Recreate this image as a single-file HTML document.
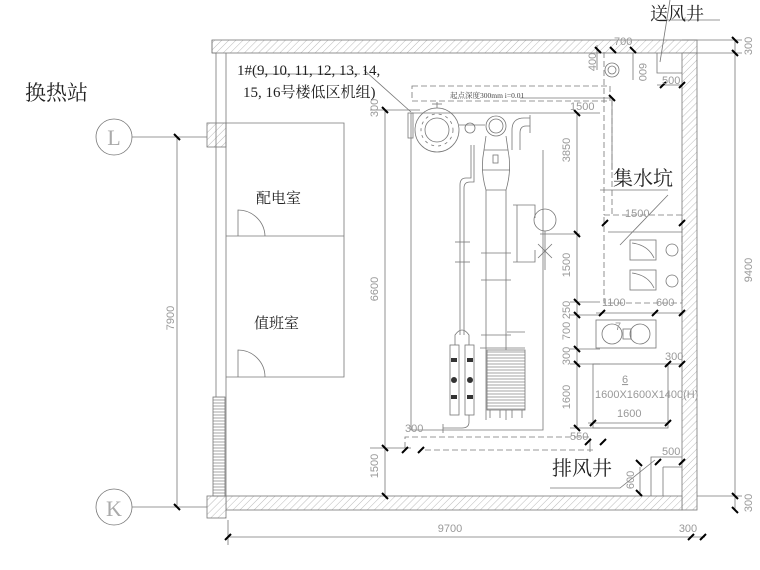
<!DOCTYPE html>
<html><head><meta charset="utf-8"><style>
html,body{margin:0;padding:0;background:#fff;width:760px;height:570px;overflow:hidden}
svg{display:block}
text{font-family:"Liberation Serif","Noto Serif CJK SC","Noto Sans CJK SC",serif}
.d{fill:#999;font-family:"Liberation Sans","Noto Sans CJK SC",sans-serif;font-size:11px}
</style></head><body>
<svg width="760" height="570" viewBox="0 0 760 570" xmlns="http://www.w3.org/2000/svg">
<defs>
<pattern id="h" width="5" height="5" patternUnits="userSpaceOnUse" patternTransform="rotate(45)">
<rect width="5" height="5" fill="#fff"/><line x1="0" y1="0" x2="0" y2="5" stroke="#aaa" stroke-width="0.8"/></pattern>
<pattern id="v" width="2.5" height="3" patternUnits="userSpaceOnUse"><rect width="3" height="3" fill="#fff"/><line x1="0" y1="1" x2="3" y2="1" stroke="#666" stroke-width="0.6"/></pattern>
</defs>
<g stroke="#777" stroke-width="0.8" fill="none">
<rect x="212" y="40" width="485" height="13" fill="url(#h)"/>
<rect x="682" y="53" width="15" height="457" fill="url(#h)"/>
<rect x="226" y="496" width="456" height="14" fill="url(#h)"/>
<rect x="207" y="123" width="19" height="24" fill="url(#h)"/>
<rect x="207" y="496" width="19" height="22" fill="url(#h)"/>
<rect x="213" y="397" width="12" height="99" fill="url(#v)"/>
<line x1="216" y1="53" x2="216" y2="397"/>
<line x1="226" y1="53" x2="226" y2="496"/>
<line x1="212" y1="40" x2="212" y2="53"/>
<line x1="212" y1="53" x2="216" y2="53"/>
<polyline points="226,123 344,123 344,377 226,377"/>
<line x1="226" y1="236" x2="344" y2="236"/>
<path d="M238,236 V210 A27,27 0 0 1 265,236"/>
<path d="M238,377 V350 A27,27 0 0 1 265,377"/>
<circle cx="114" cy="137" r="18"/><circle cx="114" cy="507" r="18"/>
<line x1="132" y1="137" x2="207" y2="137"/><line x1="132" y1="507" x2="207" y2="507"/>
<line x1="177" y1="137" x2="177" y2="507"/>
<line x1="228" y1="537" x2="705" y2="537"/>
<line x1="228" y1="520" x2="228" y2="545"/>
<line x1="735" y1="40" x2="735" y2="510"/>
<line x1="682" y1="40" x2="742" y2="40"/><line x1="697" y1="53" x2="742" y2="53"/>
<line x1="697" y1="496" x2="742" y2="496"/>
<line x1="385" y1="110" x2="385" y2="496"/>
<line x1="370" y1="110" x2="420" y2="110"/>
<line x1="370" y1="448" x2="411" y2="448"/>
<line x1="577" y1="113" x2="577" y2="428"/>
<line x1="545" y1="113" x2="600" y2="113"/>
<line x1="540" y1="234" x2="580" y2="234"/>
<line x1="570" y1="302" x2="600" y2="302"/>
<line x1="570" y1="315" x2="600" y2="315"/>
<line x1="570" y1="349" x2="600" y2="349"/>
<line x1="570" y1="364" x2="600" y2="364"/>
<line x1="570" y1="428" x2="600" y2="428"/>
<line x1="520" y1="98" x2="612" y2="98"/><line x1="612" y1="98" x2="612" y2="170"/>
<line x1="411" y1="113" x2="411" y2="430"/>
<polyline points="411,430 543,430 543,150"/>
<line x1="411" y1="113" x2="545" y2="113"/>
<path d="M364,70 L411,112" />
<line x1="255" y1="74" x2="360" y2="74"/>
<rect x="408" y="113" width="5" height="25"/>
<circle cx="437" cy="130" r="22"/><circle cx="437" cy="130" r="12"/><circle cx="437" cy="130" r="16" stroke-dasharray="3,4"/>
<line x1="437" y1="108" x2="437" y2="102"/><line x1="432" y1="104" x2="442" y2="104"/>
<line x1="459" y1="125" x2="485" y2="125"/><circle cx="470" cy="128" r="5"/>
<circle cx="496" cy="126" r="10"/><circle cx="496" cy="126" r="7"/>
<path d="M486,136 L484,150 Q480,170 486,190 L486,420 M506,136 L508,150 Q512,170 506,190 L506,420"/>
<line x1="484" y1="150" x2="508" y2="150"/><line x1="482" y1="170" x2="510" y2="170"/><line x1="486" y1="190" x2="506" y2="190"/>
<rect x="493" y="155" width="5" height="8"/>
<line x1="481" y1="253" x2="511" y2="253"/><line x1="481" y1="280" x2="511" y2="280"/><line x1="481" y1="335" x2="511" y2="335"/>
<path d="M512,150 V130 Q512,118 524,118 H530 M520,150 V133 Q520,126 526,126 H530"/>
<line x1="530" y1="115" x2="530" y2="133"/>
<path d="M513,205 H535 V218 M513,262 H535 V250"/><line x1="517" y1="205" x2="517" y2="262"/>
<circle cx="545" cy="220" r="11"/>
<path d="M538,244 L552,258 M538,258 L552,244 M545,231 V270"/>
<path d="M460,335 V185 Q460,178 466,178 H471 V145 M464,335 V188 Q464,182 470,182 H474 V145"/>
<line x1="455" y1="242" x2="470" y2="242"/><line x1="455" y1="262" x2="470" y2="262"/>
<path d="M455,345 V335 Q462,325 469,335 V345"/>
<rect x="450" y="345" width="9" height="70"/><rect x="465" y="345" width="9" height="70"/>
<path d="M469,415 V422 Q469,428 462,428 H443 M443,424 V433"/>
<rect x="487" y="350" width="38" height="60" fill="url(#v)"/>
<line x1="480" y1="348" x2="525" y2="348"/>
<line x1="490" y1="410" x2="490" y2="418"/><line x1="500" y1="410" x2="500" y2="418"/><line x1="512" y1="410" x2="512" y2="418"/><line x1="522" y1="410" x2="522" y2="418"/>
<line x1="507" y1="332" x2="525" y2="332"/>
<g stroke-dasharray="6,3">
<rect x="412" y="86" width="198" height="15"/>
<polyline points="405,448 405,437 590,437"/>
<polyline points="425,450 595,450"/>
<rect x="604" y="215" width="78" height="88"/>
<line x1="604" y1="52" x2="604" y2="215"/>
<line x1="612" y1="100" x2="612" y2="215"/>
</g>
<rect x="630" y="240" width="26" height="20"/><rect x="630" y="270" width="26" height="20"/>
<path d="M632,243 Q648,245 654,258 M632,273 Q648,275 654,288"/>
<circle cx="672" cy="250" r="6"/><circle cx="672" cy="281" r="6"/>
<line x1="608" y1="232" x2="682" y2="232"/>
<line x1="620" y1="245" x2="668" y2="195"/>
<line x1="600" y1="190" x2="668" y2="190"/>
<line x1="596" y1="313" x2="682" y2="313"/>
<rect x="596" y="320" width="60" height="28"/><circle cx="612" cy="334" r="10"/><circle cx="640" cy="334" r="10"/><rect x="623" y="329" width="8" height="10"/>
<rect x="593" y="364" width="75" height="64"/>
<line x1="588" y1="423" x2="668" y2="423"/>
<line x1="668" y1="364" x2="682" y2="364"/>
<polyline points="657,53 657,73 682,73"/>
<line x1="657" y1="85" x2="682" y2="85"/>
<circle cx="612" cy="70" r="7"/><circle cx="612" cy="70" r="4"/>
<line x1="597" y1="45" x2="597" y2="70"/><line x1="633" y1="53" x2="633" y2="80"/>
<line x1="670" y1="0" x2="660" y2="62"/><line x1="660" y1="20" x2="720" y2="20"/>
<polyline points="651,496 651,457 682,457"/><line x1="663" y1="496" x2="663" y2="467"/><line x1="663" y1="467" x2="682" y2="467"/>
<line x1="640" y1="467" x2="640" y2="496"/>
<polyline points="550,488 620,488 655,460"/>
<line x1="590" y1="438" x2="590" y2="452"/>
</g>
<g fill="#333">
<circle cx="454" cy="380" r="3"/><circle cx="470" cy="380" r="3"/>
<rect x="451" y="358" width="6" height="4"/><rect x="467" y="358" width="6" height="4"/>
<rect x="451" y="395" width="6" height="4"/><rect x="467" y="395" width="6" height="4"/>
</g>
<g stroke="#000" stroke-width="2">
<path d="M174,134l6,6M174,504l6,6M225,540l6,-6M732,37l6,6M732,50l6,6M732,493l6,6M732,507l6,6M700,540l6,-6M688,540l6,-6M382,107l6,6M382,445l6,6M382,493l6,6M574,110l6,6M574,231l6,6M574,299l6,6M574,312l6,6M574,346l6,6M574,361l6,6M574,425l6,6M609,95l6,6M602,226l6,-6M679,226l6,-6M599,316l6,-6M652,316l6,-6M679,316l6,-6M590,426l6,-6M665,426l6,-6M665,367l6,-6M679,367l6,-6M402,453l6,-6M418,453l6,-6M585,445l6,-6M600,445l6,-6M660,88l6,-6M679,88l6,-6M595,47l6,6M610,47l6,6M630,47l6,6M636,460l6,6M636,490l6,6M655,465l6,-6M679,465l6,-6"/>
</g>
<text x="25" y="100" font-size="21" fill="#222">换热站</text>
<text x="114" y="145" font-size="22" fill="#aaa" text-anchor="middle">L</text>
<text x="114" y="516" font-size="22" fill="#aaa" text-anchor="middle">K</text>
<text x="256" y="203" font-size="15" fill="#222">配电室</text>
<text x="254" y="328" font-size="15" fill="#222">值班室</text>
<text x="237" y="75" font-size="15" fill="#222">1#(9, 10, 11, 12, 13, 14,</text>
<text x="243" y="97" font-size="15" fill="#222">15, 16号楼低区机组)</text>
<text x="450" y="98" font-size="7.5" fill="#444">起点深度300mm i=0.01</text>
<text x="613" y="185" font-size="20" fill="#222">集水坑</text>
<text x="650" y="20" font-size="18" fill="#222">送风井</text>
<text x="552" y="475" font-size="20" fill="#222">排风井</text>
<text class="d" x="450" y="532" text-anchor="middle">9700</text>
<text class="d" x="688" y="532" text-anchor="middle">300</text>
<text class="d" x="570" y="110">1500</text>
<text class="d" x="625" y="217">1500</text>
<text class="d" x="602" y="306">1100</text>
<text class="d" x="656" y="306">600</text>
<text class="d" x="665" y="360">300</text>
<text class="d" x="622" y="383" font-size="8" text-decoration="underline">6</text>
<text class="d" x="595" y="398" font-size="9">1600X1600X1400(H)</text>
<text class="d" x="617" y="417">1600</text>
<text class="d" x="615" y="330" font-size="8">7</text>
<text class="d" x="570" y="440">550</text>
<text class="d" x="405" y="432">300</text>
<text class="d" x="662" y="455">500</text>
<text class="d" x="662" y="84">500</text>
<text class="d" x="614" y="45">700</text>
<g class="d">
<text transform="translate(174,318) rotate(-90)" class="d" text-anchor="middle">7900</text>
<text transform="translate(752,270) rotate(-90)" class="d" text-anchor="middle">9400</text>
<text transform="translate(752,46) rotate(-90)" class="d" text-anchor="middle">300</text>
<text transform="translate(752,503) rotate(-90)" class="d" text-anchor="middle">300</text>
<text transform="translate(378,289) rotate(-90)" class="d" text-anchor="middle">6600</text>
<text transform="translate(378,108) rotate(-90)" class="d" text-anchor="middle">300</text>
<text transform="translate(378,466) rotate(-90)" class="d" text-anchor="middle">1500</text>
<text transform="translate(570,150) rotate(-90)" class="d" text-anchor="middle">3850</text>
<text transform="translate(570,265) rotate(-90)" class="d" text-anchor="middle">1500</text>
<text transform="translate(570,310) rotate(-90)" class="d" text-anchor="middle">250</text>
<text transform="translate(570,331) rotate(-90)" class="d" text-anchor="middle">700</text>
<text transform="translate(570,356) rotate(-90)" class="d" text-anchor="middle">300</text>
<text transform="translate(570,397) rotate(-90)" class="d" text-anchor="middle">1600</text>
<text transform="translate(596,62) rotate(-90)" class="d" text-anchor="middle">400</text>
<text transform="translate(639,72) rotate(90)" class="d" text-anchor="middle">600</text>
<text transform="translate(634,480) rotate(-90)" class="d" text-anchor="middle">600</text>
</g>
</svg>
</body></html>
